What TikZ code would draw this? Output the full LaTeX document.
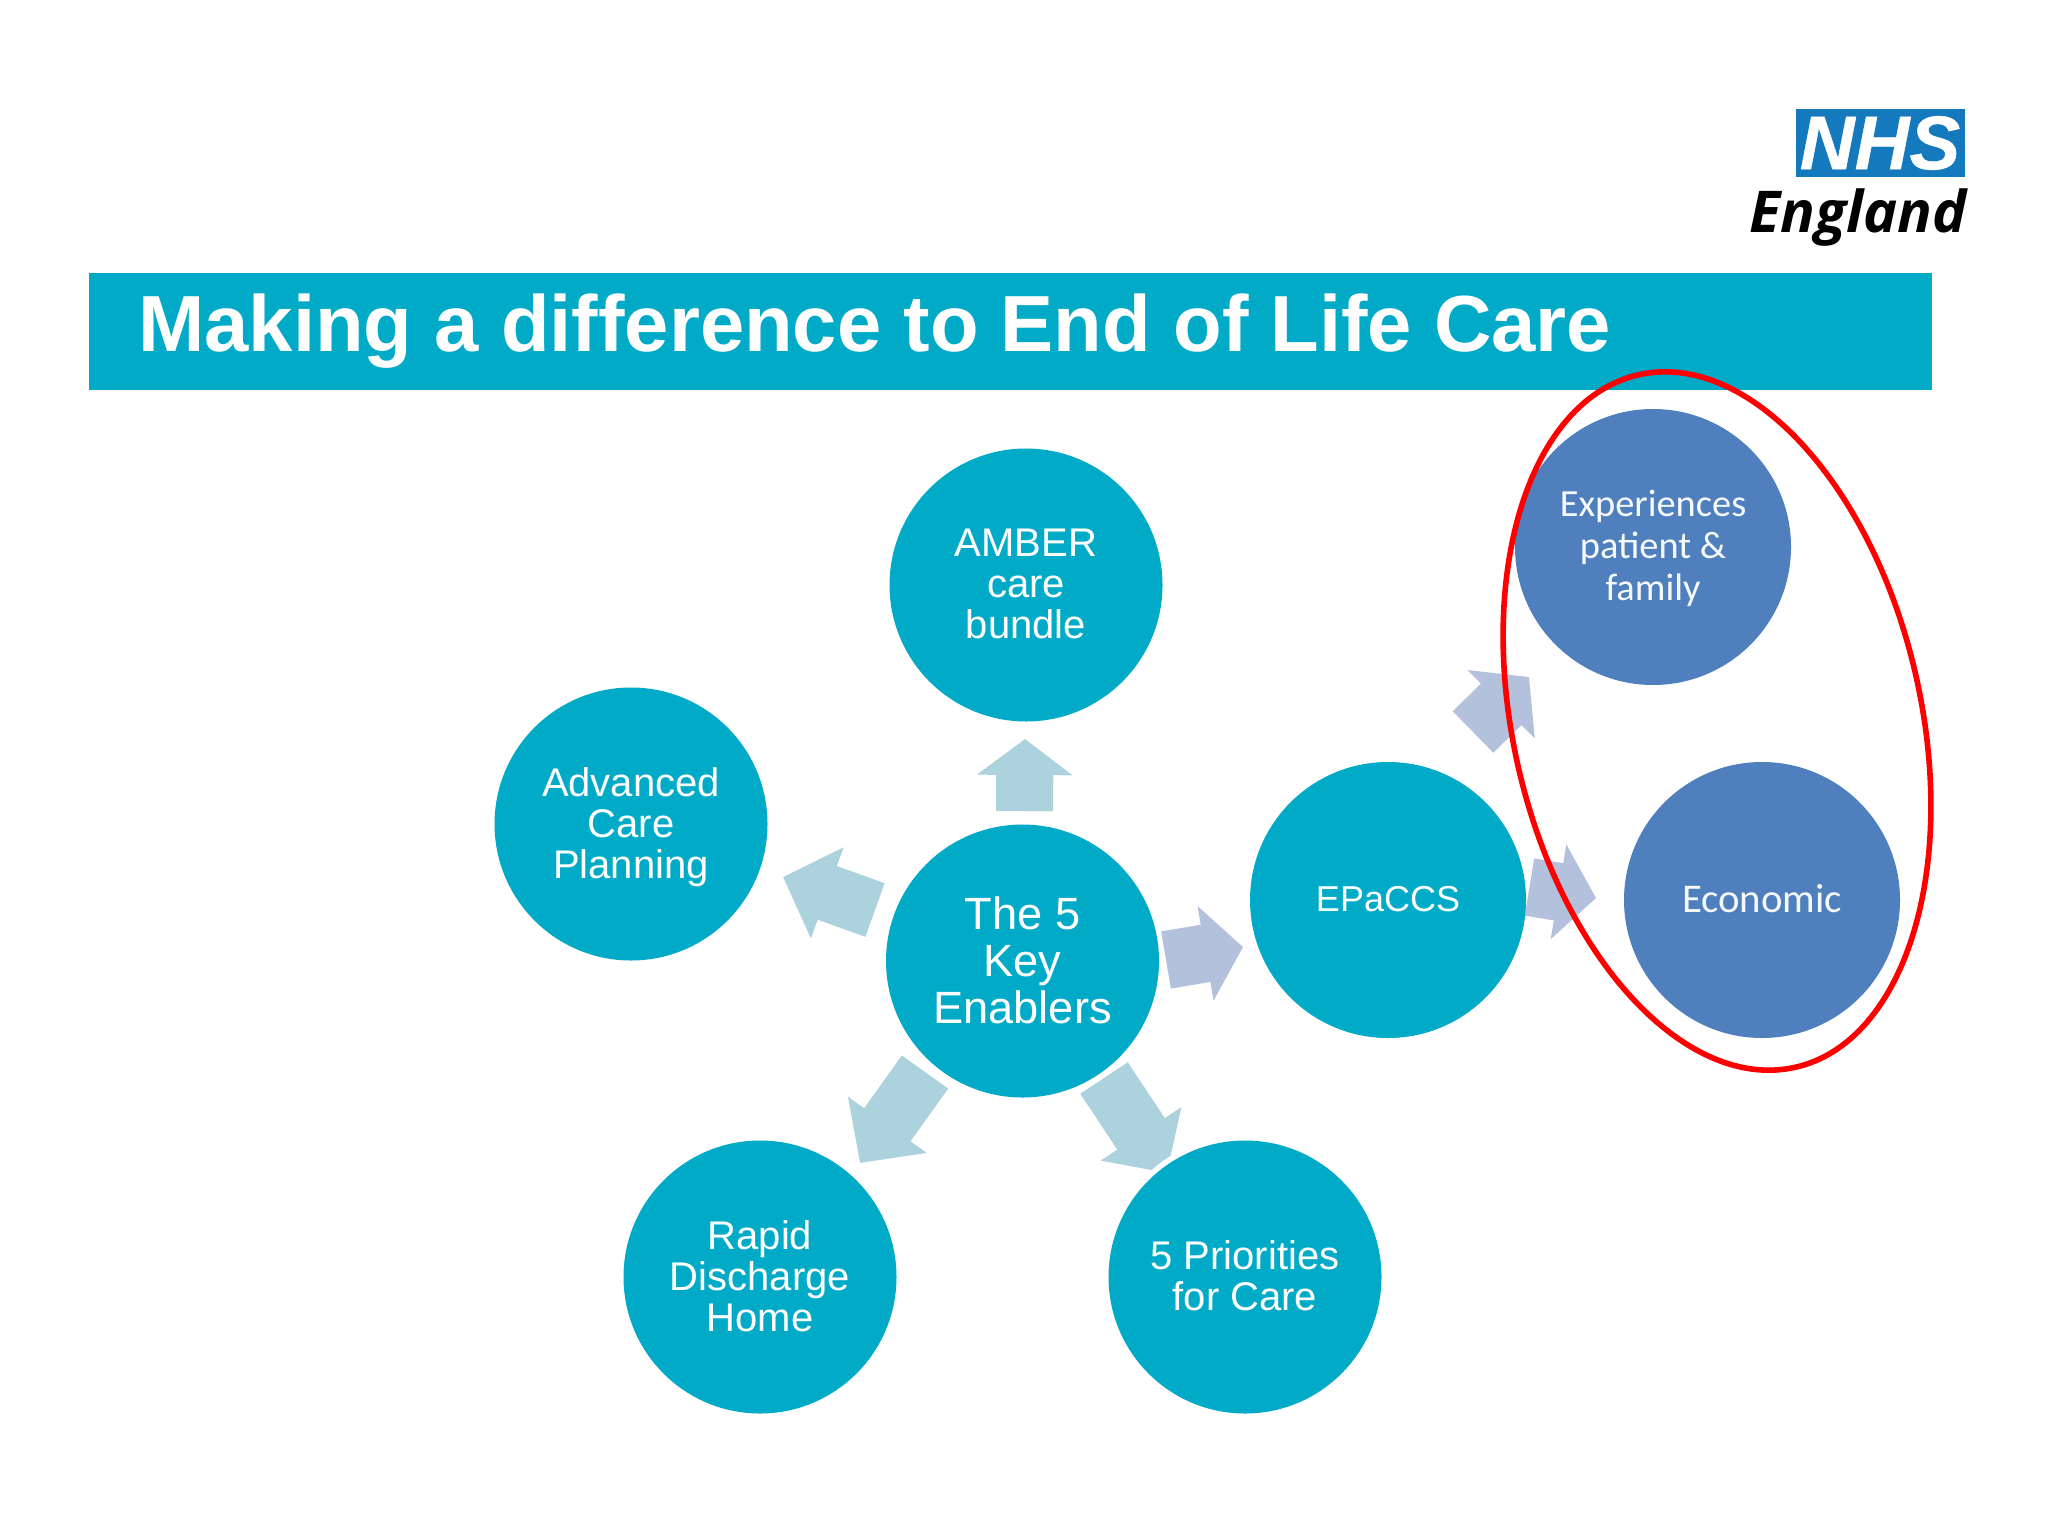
\documentclass[tikz,border=0pt]{standalone}
\usepackage{fontspec}
\setmainfont{Liberation Sans}
\newfontfamily\calfont{Carlito}
\newfontfamily\logofont{Open Sans}
\newfontfamily\nhsfont[UprightFont=* Bold Italic,FakeBold=0.6]{Liberation Sans}
\usetikzlibrary{shapes.geometric,arrows.meta,backgrounds}
\definecolor{teal}{HTML}{01ABC8}
\definecolor{steel}{HTML}{4F80BD}
\definecolor{paleteal}{HTML}{ACD2DE}
\definecolor{paleblue}{HTML}{B4C1DC}
\definecolor{nhsblue}{HTML}{1579BE}
\tikzset{
  disc/.style={circle,fill=teal,text=white,inner sep=0pt,minimum size=136.5pt,align=center,
    text depth=1.3pt,font=\fontsize{20}{20.5}\selectfont},
  bigdisc/.style={disc,font=\fontsize{22.6}{23.5}\selectfont},
  bluedisc/.style={circle,fill=steel,text=white!95!steel,inner sep=0pt,minimum size=138pt,align=center,
    text depth=1.3pt,font=\calfont\fontsize{19.2}{21}\selectfont},
  blockteal/.style={draw=paleteal,line width=28.5pt,-{Triangle[length=#1,width=47pt,fill=paleteal]}},
  blockblue/.style={draw=paleblue,line width=29pt,-{Triangle[length=#1,width=47pt,fill=paleblue]}},
}
\begin{document}
\begin{tikzpicture}[x=0.5pt,y=-0.5pt]
\useasboundingbox (0,0) rectangle (2048,1536);
% header
\node[fill=teal,inner sep=0pt,minimum width=921.5pt,minimum height=58.5pt,anchor=north west] (bar) at (89,273) {};
\node[anchor=base west,inner sep=0pt,text=white,font=\bfseries\fontsize{39.8}{42}\selectfont] (title) at (138,351) {Making a difference to End of Life Care};
% logo
\node[fill=nhsblue,inner sep=0pt,minimum width=84.5pt,minimum height=34pt,anchor=north west] (nhsbox) at (1796,109) {};
\node[inner sep=0pt,text=white,font=\nhsfont\fontsize{38}{40}\selectfont] (nhs) at (1880,143) {NHS};
\node[anchor=base east,inner sep=0pt,text=black,font=\logofont\bfseries\itshape\fontsize{28.8}{30}\selectfont] (england) at (1967,232) {England};
% discs
\node[bigdisc] (centre) at (1022.5,961) {The 5\\Key\\Enablers};
\node[disc] (amber) at (1026,585) {AMBER\\care\\bundle};
\node[disc] (acp) at (631,824) {Advanced\\Care\\Planning};
\node[disc] (rapid) at (760,1277) {Rapid\\Discharge\\Home};
\node[disc] (prior) at (1245,1277) {5 Priorities\\for Care};
\node[disc,minimum size=138pt,font=\fontsize{18}{20}\selectfont] (epaccs) at (1388,900) {EPaCCS};
\node[bluedisc] (exper) at (1653,547) {Experiences\\patient \&\\family};
\node[bluedisc,font=\calfont\fontsize{20.4}{21}\selectfont] (econ) at (1762,900) {Economic};
% block arrows, behind the discs
\begin{pgfonlayer}{background}
\draw[blockteal=18pt] ([shift={(2,-150)}]centre.center) -- ([shift={(-1,154)}]amber.center);
\draw[blockteal=23.5pt] ([shift={(-147.5,-51)}]centre.center) -- ([shift={(152,53)}]acp.center);
\draw[blockteal=23.5pt] ([shift={(-97.5,111)}]centre.center) -- ([shift={(100,-114)}]rapid.center);
\draw[blockteal=23.5pt] ([shift={(81.5,117)}]centre.center) -- ([shift={(-78,-104)}]prior.center);
\fill[white] (prior.center) circle (142);
\draw[blockblue=19pt] ([shift={(143.5,-1)}]centre.center) -- ([shift={(-145,47)}]epaccs.center);
\draw[blockblue=19pt] ([shift={(141.5,-13)}]epaccs.center) -- ([shift={(-166,-2)}]econ.center);
\draw[blockblue=19.5pt] ([shift={(85,-168)}]epaccs.center) -- ([shift={(-124,130)}]exper.center);
\end{pgfonlayer}
% red ring
\node[ellipse,draw=red,line width=2.8pt,fill=none,inner sep=0pt,minimum width=204pt,minimum height=355pt,rotate=12.76] (ring) at (1717,721) {};
\end{tikzpicture}
\end{document}
